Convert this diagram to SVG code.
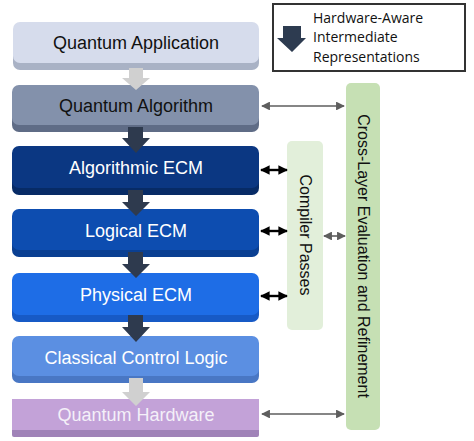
<svg xmlns="http://www.w3.org/2000/svg" width="474" height="441" viewBox="0 0 474 441">
<defs>
<style>
.lbl{font-family:"Liberation Sans",Arial,sans-serif;font-size:18px;text-anchor:middle;dominant-baseline:central}
.vt{font-family:"Liberation Sans",Arial,sans-serif;font-size:16px;text-anchor:middle;dominant-baseline:central;fill:#111}
.lg{font-family:"Open Sans","Noto Sans",sans-serif;font-size:14px;fill:#111}
.g{stroke:#5e5e5e;stroke-width:1.6;fill:none}
.k{stroke:#000;stroke-width:2.4;fill:none}
</style>
<marker id="mg" viewBox="0 0 10 10" refX="9" refY="5" markerWidth="5.5" markerHeight="5.5" orient="auto-start-reverse" markerUnits="strokeWidth"><path d="M0,0L10,5L0,10z" fill="#5e5e5e"/></marker>
<marker id="mk" viewBox="0 0 10 10" refX="9" refY="5" markerWidth="4" markerHeight="4" orient="auto-start-reverse" markerUnits="strokeWidth"><path d="M0,0L10,5L0,10z" fill="#000"/></marker>
</defs>
<rect width="474" height="441" fill="#fff"/>

<g id="legend">
<rect x="273" y="4" width="192" height="67" fill="#fff" stroke="#333" stroke-width="2"/>
<path d="M283,26H301V38H306L292,52L277,38H283Z" fill="#2d3b50"/>
<text class="lg" x="313" y="23">Hardware-Aware</text>
<text class="lg" x="313" y="42">Intermediate</text>
<text class="lg" x="313" y="62">Representations</text>
</g>

<g id="cross-layer">
<rect x="346" y="83" width="34" height="347" rx="5" fill="#c6e0b4"/>
<text class="vt" transform="translate(363,256) rotate(90)">Cross-Layer Evaluation and Refinement</text>
</g>
<g id="compiler-passes">
<rect x="287" y="141" width="36" height="189" rx="5" fill="#e2efda"/>
<text class="vt" transform="translate(305,235) rotate(90)">Compiler Passes</text>
</g>

<g id="quantum-application">
<rect x="13" y="27" width="246" height="43" rx="7" fill="#a9b2c5"/>
<rect x="13" y="22" width="246" height="41" rx="7" fill="#d6dcec"/>
<text class="lbl" x="136" y="43" fill="#111">Quantum Application</text>
</g>
<g id="quantum-algorithm">
<rect x="12" y="90" width="247" height="42" rx="7" fill="#5f6c86"/>
<rect x="12" y="85" width="247" height="40" rx="7" fill="#8391ab"/>
<text class="lbl" x="136" y="106" fill="#111">Quantum Algorithm</text>
</g>
<g id="algorithmic-ecm">
<rect x="12" y="151" width="247" height="44" rx="7" fill="#072b66"/>
<rect x="12" y="146" width="247" height="42" rx="7" fill="#0b3782"/>
<text class="lbl" x="136" y="168" fill="#fff">Algorithmic ECM</text>
</g>
<g id="logical-ecm">
<rect x="12" y="214" width="247" height="43" rx="7" fill="#0a3f92"/>
<rect x="12" y="209" width="247" height="41" rx="7" fill="#0d4db0"/>
<text class="lbl" x="136" y="231" fill="#fff">Logical ECM</text>
</g>
<g id="physical-ecm">
<rect x="12" y="278" width="247" height="44" rx="7" fill="#175ac6"/>
<rect x="12" y="273" width="247" height="42" rx="7" fill="#1e6de6"/>
<text class="lbl" x="136" y="295" fill="#fff">Physical ECM</text>
</g>
<g id="classical-control-logic">
<rect x="12" y="341" width="247" height="42" rx="7" fill="#4977c4"/>
<rect x="12" y="336" width="247" height="40" rx="7" fill="#5b8fe2"/>
<text class="lbl" x="136" y="358" fill="#fff">Classical Control Logic</text>
</g>
<g id="quantum-hardware">
<rect x="12" y="404" width="247" height="33" rx="2" fill="#a083b8"/>
<rect x="12" y="399" width="247" height="31" fill="#c3a2d8"/>
<text class="lbl" x="136" y="415" fill="#f4f0f8">Quantum Hardware</text>
</g>

<g id="connectors">
<path d="M129,68H143V78H150L136,90L122,78H129Z" fill="#d0d0d0"/>
<path d="M128,127H143V138H150L136,153L122,138H128Z" fill="#2e3a4e"/>
<path d="M128,190H143V202H150L136,216L122,202H128Z" fill="#2e3a4e"/>
<path d="M128,252H143V264H150L136,278L122,264H128Z" fill="#2e3a4e"/>
<path d="M128,315H143V327H150L136,342L122,327H128Z" fill="#2e3a4e"/>
<path d="M129,378H143V392H150L136,406L122,392H129Z" fill="#d0d0d0"/>
<line class="g" x1="262" y1="106" x2="344" y2="106" marker-start="url(#mg)" marker-end="url(#mg)"/>
<line class="g" x1="262" y1="414" x2="344" y2="414" marker-start="url(#mg)" marker-end="url(#mg)"/>
<line class="g" x1="324" y1="236" x2="345" y2="236" marker-start="url(#mg)" marker-end="url(#mg)"/>
<line class="k" x1="261" y1="170" x2="287" y2="170" marker-start="url(#mk)" marker-end="url(#mk)"/>
<line class="k" x1="261" y1="231" x2="287" y2="231" marker-start="url(#mk)" marker-end="url(#mk)"/>
<line class="k" x1="261" y1="296" x2="287" y2="296" marker-start="url(#mk)" marker-end="url(#mk)"/>
</g>
</svg>
